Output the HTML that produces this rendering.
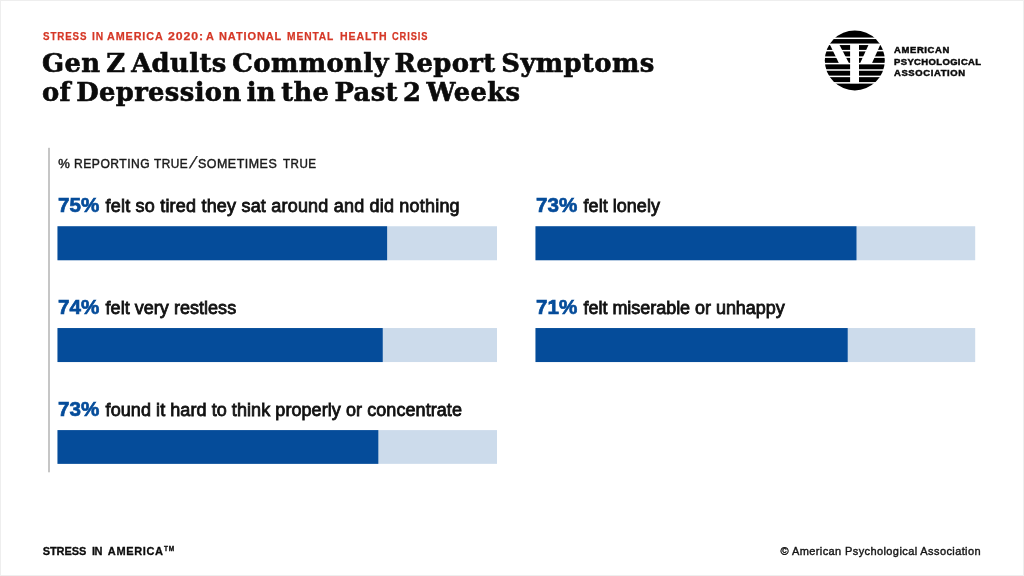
<!DOCTYPE html>
<html lang="en">
<head>
<meta charset="utf-8">
<title>Stress in America 2020: Gen Z Adults Commonly Report Symptoms of Depression</title>
<style>
html,body{margin:0;padding:0;}
body{width:1024px;height:576px;position:relative;overflow:hidden;background:#fff;font-family:"Liberation Sans",sans-serif;color:#111;}
.frame{position:absolute;left:0;top:0;width:1022px;height:574px;border:1px solid #eeeeee;}
.t{position:absolute;white-space:nowrap;line-height:1;margin:0;padding:0;}
.kicker{left:0;top:30.8px;font-size:11.2px;font-weight:bold;color:#d53726;-webkit-text-stroke:0.25px #d53726;}
.lab span{position:absolute;top:0;white-space:nowrap;transform-origin:0 0;}
.kicker span{position:absolute;top:0;white-space:nowrap;transform-origin:0 0;}
.title{left:42px;font-family:"DejaVu Serif","Liberation Serif",serif;font-weight:bold;font-size:25.2px;letter-spacing:0.357px;word-spacing:-3.57px;color:#0b0b0b;-webkit-text-stroke:0.6px #0b0b0b;transform:scaleX(1.0272);transform-origin:0 0;}
.title.l1{top:51px;}
.title.l2{top:80px;word-spacing:-4.08px;transform:scaleX(1.0243);}
.bars{position:absolute;left:0;top:0;}
.lab{left:0;top:157px;font-size:13px;color:#1a1a1a;-webkit-text-stroke:0.45px #1a1a1a;}
.row{position:absolute;width:439px;height:66px;}
.pct{position:absolute;left:0.1px;top:1.2px;font-weight:bold;font-size:20.6px;line-height:1;color:#054c9a;letter-spacing:0;white-space:nowrap;transform:scaleX(1.0);transform-origin:0 0;-webkit-text-stroke:0.7px #054c9a;}
.desc{position:absolute;left:47.6px;top:3px;font-size:18px;line-height:1;letter-spacing:0.1px;color:#111;-webkit-text-stroke:0.8px #111;white-space:nowrap;}
.foot-l{left:0;top:546.4px;font-size:11px;font-weight:bold;color:#0d0d0d;-webkit-text-stroke:0.3px #0d0d0d;}
.foot-l span{position:absolute;top:0;white-space:nowrap;}
.foot-r{right:43px;top:546.3px;font-size:11px;letter-spacing:0.4px;color:#151515;-webkit-text-stroke:0.4px #151515;}
.logo{position:absolute;left:820px;top:26px;width:70px;height:70px;}
.org{left:894px;font-size:8.6px;font-weight:bold;letter-spacing:0.9px;color:#0a0a0a;-webkit-text-stroke:0.45px #0a0a0a;transform:scaleX(1.1);transform-origin:0 0;}
</style>
</head>
<body>
<div class="frame"></div>
<div class="t kicker"><span style="left:42.9px;letter-spacing:1.032px;transform:scaleX(0.872)">STRESS</span> <span style="left:91.8px;letter-spacing:0.98px;transform:scaleX(0.9182)">IN</span> <span style="left:107.4px;letter-spacing:0.935px;transform:scaleX(0.963)">AMERICA</span> <span style="left:167.9px;letter-spacing:0.82px;transform:scaleX(1.0973)">2020:</span> <span style="left:206.0px;letter-spacing:0.923px;transform:scaleX(0.975)">A</span> <span style="left:218.7px;letter-spacing:0.915px;transform:scaleX(0.9837)">NATIONAL</span> <span style="left:287.0px;letter-spacing:0.984px;transform:scaleX(0.9142)">MENTAL</span> <span style="left:339.8px;letter-spacing:0.954px;transform:scaleX(0.9436)">HEALTH</span> <span style="left:391.7px;letter-spacing:1.084px;transform:scaleX(0.8299)">CRISIS</span></div>
<h1 class="t title l1">Gen Z Adults Commonly Report Symptoms</h1>
<h1 class="t title l2">of Depression in the Past 2 Weeks</h1>

<svg class="logo" viewBox="820 26 70 70">
  <circle cx="854.8" cy="60.4" r="30" fill="#000"/>
  <g fill="#fff">
    <rect x="820" y="37.55" width="70" height="1.5"/>
    <rect x="820" y="43.55" width="70" height="1.5"/>
    <rect x="820" y="49.9" width="70" height="1.5"/>
    <rect x="820" y="56.4" width="70" height="1.5"/>
    <rect x="820" y="62.85" width="70" height="1.5"/>
    <rect x="820" y="69.25" width="70" height="1.5"/>
    <rect x="820" y="75.65" width="70" height="1.5"/>
    <rect x="820" y="82.1" width="70" height="1.5"/>
    <rect x="850.1" y="44.0" width="8.9" height="39.2"/>
    <polygon points="829.6,44.0 839,44.0 849.4,63.9 839.3,63.9"/>
    <polygon points="868.9,44.0 880.6,44.0 871.6,63.9 859.8,63.9"/>
  </g>
</svg>
<div class="t org" style="top:46px;letter-spacing:0.57px">AMERICAN</div>
<div class="t org" style="top:57.5px;left:894.4px;letter-spacing:0.35px">PSYCHOLOGICAL</div>
<div class="t org" style="top:69px;letter-spacing:0.56px">ASSOCIATION</div>

<svg class="bars" width="1024" height="576" viewBox="0 0 1024 576">
  <rect x="48.2" y="147.8" width="1.6" height="324.5" fill="#b9b9b9"/>
  <rect x="57.5" y="226.25" width="439.5" height="34" fill="#ccdbeb"/>
  <rect x="57.5" y="226.25" width="329.62" height="34" fill="#054c9a"/>
  <rect x="57.5" y="328.05" width="439.5" height="34" fill="#ccdbeb"/>
  <rect x="57.5" y="328.05" width="325.23" height="34" fill="#054c9a"/>
  <rect x="57.5" y="430.1" width="439.5" height="33.75" fill="#ccdbeb"/>
  <rect x="57.5" y="430.1" width="320.83" height="33.75" fill="#054c9a"/>
  <rect x="535.5" y="226.25" width="439.7" height="34" fill="#ccdbeb"/>
  <rect x="535.5" y="226.25" width="320.98" height="34" fill="#054c9a"/>
  <rect x="535.5" y="328.05" width="439.7" height="34" fill="#ccdbeb"/>
  <rect x="535.5" y="328.05" width="312.19" height="34" fill="#054c9a"/>
</svg>
<div class="t lab"><span style="left:58.2px;letter-spacing:0">%</span> <span style="left:73.77px;letter-spacing:0.537px;transform:scaleX(0.931)">REPORTING</span> <span style="left:153.9px;letter-spacing:0.549px;transform:scaleX(0.9099)">TRUE</span><span style="left:190.7px;top:-2.6px;font-size:16.5px;letter-spacing:0;transform:skewX(-19deg);transform-origin:50% 50%;-webkit-text-stroke:0.3px #1a1a1a">/</span><span style="left:197.9px;letter-spacing:0.522px;transform:scaleX(0.9574)">SOMETIMES</span> <span style="left:282.5px;letter-spacing:0.56px;transform:scaleX(0.8931)">TRUE</span></div>

<div class="row" style="left:58px;top:194px">
  <span class="pct">75%</span> <span class="desc" style="letter-spacing:0.2px">felt so tired they sat around and did nothing</span>
</div>
<div class="row" style="left:58px;top:296px">
  <span class="pct">74%</span> <span class="desc" style="letter-spacing:0.03px">felt very restless</span>
</div>
<div class="row" style="left:58px;top:398px">
  <span class="pct">73%</span> <span class="desc" style="letter-spacing:0.07px">found it hard to think properly or concentrate</span>
</div>
<div class="row" style="left:536px;top:194px">
  <span class="pct">73%</span> <span class="desc" style="letter-spacing:0.03px">felt lonely</span>
</div>
<div class="row" style="left:536px;top:296px">
  <span class="pct">71%</span> <span class="desc" style="letter-spacing:-0.04px">felt miserable or unhappy</span>
</div>

<div class="t foot-l"><span style="left:42.75px;letter-spacing:-0.1px">STRESS</span> <span style="left:91.9px;letter-spacing:-0.5px">IN</span> <span style="left:107.8px;letter-spacing:0.65px">AMERICA</span><span style="left:163.9px;top:-0.2px;font-size:6.5px;letter-spacing:0.9px">TM</span></div>
<div class="t foot-r">© American Psychological Association</div>
</body>
</html>
